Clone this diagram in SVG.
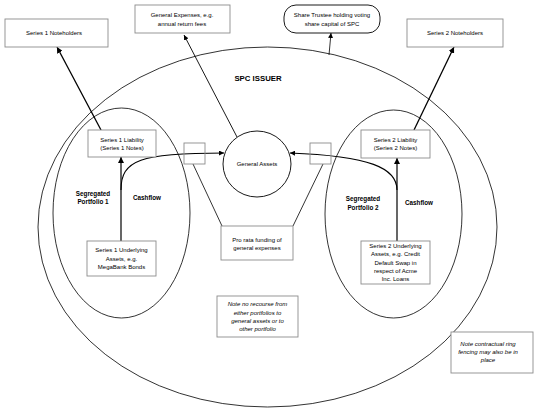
<svg xmlns="http://www.w3.org/2000/svg" width="537" height="410" viewBox="0 0 537 410">
<defs>
<marker id="ah" viewBox="0 0 10 10" refX="10" refY="5" markerWidth="6" markerHeight="6" markerUnits="userSpaceOnUse" orient="auto"><path d="M0,0 L10,5 L0,10 z" fill="#000"/></marker>
<marker id="ahs" viewBox="0 0 10 10" refX="10" refY="5" markerWidth="5" markerHeight="5" markerUnits="userSpaceOnUse" orient="auto"><path d="M0,0 L10,5 L0,10 z" fill="#000"/></marker>
<style>
text{font-family:"Liberation Sans",Arial,sans-serif;font-size:6px;fill:#000;text-anchor:middle}
.b{font-weight:bold;font-size:6.3px}
.t{font-weight:bold;font-size:7.8px}
.i{font-style:italic}
.box{fill:#fff;stroke:#8c8c8c;stroke-width:0.9}
.ell{fill:none;stroke:#000;stroke-width:0.8}
.c{fill:none;stroke:#000}
</style>
</defs>
<rect width="537" height="410" fill="#fff"/>
<g id="spc-issuer">
<ellipse class="ell" cx="267.5" cy="227" rx="229.5" ry="180"/>
<text class="t" x="258" y="81">SPC ISSUER</text>
</g>
<g id="portfolio1">
<ellipse class="ell" cx="121.5" cy="213" rx="68.5" ry="105"/>
<text class="b" x="93" y="195.5">Segregated</text>
<text class="b" x="93" y="204">Portfolio 1</text>
</g>
<g id="portfolio2">
<ellipse class="ell" cx="393.5" cy="214" rx="68.5" ry="104"/>
<text class="b" x="363" y="201">Segregated</text>
<text class="b" x="363" y="209.5">Portfolio 2</text>
</g>
<g id="connectors">
<line class="c" x1="101" y1="130" x2="57" y2="47" stroke-width="1.3" marker-end="url(#ah)"/>
<line class="c" x1="414" y1="130" x2="454" y2="47" stroke-width="1.3" marker-end="url(#ah)"/>
<line class="c" x1="237" y1="137" x2="184" y2="35" stroke-width="0.9" marker-end="url(#ahs)"/>
<line class="c" x1="329" y1="55" x2="331" y2="33" stroke-width="0.8" marker-end="url(#ahs)"/>
<line class="c" x1="121" y1="241" x2="121" y2="157" stroke-width="1.2" marker-end="url(#ah)"/>
<line class="c" x1="397" y1="241" x2="397" y2="158" stroke-width="1.2" marker-end="url(#ah)"/>
<path class="c" d="M121,190 C121,160 140,153 224,153" stroke-width="1.1" marker-end="url(#ahs)"/>
<path class="c" d="M397,190 C397,168 370,156 290,153" stroke-width="1.1" marker-end="url(#ahs)"/>
<line class="c" x1="193" y1="164" x2="222" y2="226" stroke-width="0.8"/>
<line class="c" x1="323" y1="164" x2="293" y2="226" stroke-width="0.8"/>
<text class="b" x="147" y="200">Cashflow</text>
<text class="b" x="419" y="205">Cashflow</text>
</g>
<g id="sq1"><rect x="184" y="143" width="21" height="21" fill="none" stroke="#8c8c8c" stroke-width="0.9"/></g>
<g id="sq2"><rect x="310" y="143" width="21" height="21" fill="none" stroke="#8c8c8c" stroke-width="0.9"/></g>
<g id="noteholders1">
<rect class="box" x="5" y="19" width="103" height="28"/>
<text x="54" y="35">Series 1 Noteholders</text>
</g>
<g id="general-expenses">
<rect class="box" x="135" y="5" width="95" height="28"/>
<text x="182" y="17">General Expenses, e.g.</text>
<text x="182" y="26">annual return fees</text>
</g>
<g id="share-trustee">
<rect x="284" y="5" width="96" height="28" rx="12" ry="12" fill="#fff" stroke="#000" stroke-width="0.9"/>
<text x="332" y="17">Share Trustee holding voting</text>
<text x="332" y="26">share capital of SPC</text>
</g>
<g id="noteholders2">
<rect class="box" x="407" y="19" width="96" height="28"/>
<text x="455" y="35">Series 2 Noteholders</text>
</g>
<g id="liability1">
<rect class="box" x="88" y="130" width="68" height="27"/>
<text x="122" y="141.5">Series 1 Liability</text>
<text x="122" y="149.5">(Series 1 Notes)</text>
</g>
<g id="liability2">
<rect class="box" x="361" y="130" width="69" height="28"/>
<text x="395.5" y="141.5">Series 2 Liability</text>
<text x="395.5" y="149.5">(Series 2 Notes)</text>
</g>
<g id="assets1">
<rect class="box" x="87" y="241" width="69" height="35"/>
<text x="121.5" y="252.3">Series 1 Underlying</text>
<text x="121.5" y="260.6">Assets, e.g.</text>
<text x="121.5" y="268.9">MegaBank Bonds</text>
</g>
<g id="assets2">
<rect class="box" x="361" y="241" width="69" height="43"/>
<text x="395.5" y="248">Series 2 Underlying</text>
<text x="395.5" y="256.3">Assets, e.g. Credit</text>
<text x="395.5" y="264.6">Default Swap in</text>
<text x="395.5" y="272.9">respect of Acme</text>
<text x="395.5" y="281.2">Inc. Loans</text>
</g>
<g id="general-assets">
<ellipse cx="257" cy="164" rx="34" ry="33" fill="#fff" stroke="#000" stroke-width="0.9"/>
<text x="257" y="166">General Assets</text>
</g>
<g id="pro-rata">
<rect class="box" x="221" y="226" width="72" height="34"/>
<text x="257" y="242">Pro rata funding of</text>
<text x="257" y="250">general expenses</text>
</g>
<g id="note-recourse">
<rect class="box" x="217" y="296" width="81" height="41"/>
<text class="i" x="257.5" y="306.3">Note no recourse from</text>
<text class="i" x="257.5" y="314.7">either portfolios to</text>
<text class="i" x="257.5" y="323">general assets or to</text>
<text class="i" x="257.5" y="331.3">other portfolio</text>
</g>
<g id="note-ring">
<rect class="box" x="451" y="332" width="82" height="41"/>
<text class="i" x="488" y="346">Note contractual ring</text>
<text class="i" x="488" y="354">fencing may also be in</text>
<text class="i" x="488" y="362">place</text>
</g>
</svg>
